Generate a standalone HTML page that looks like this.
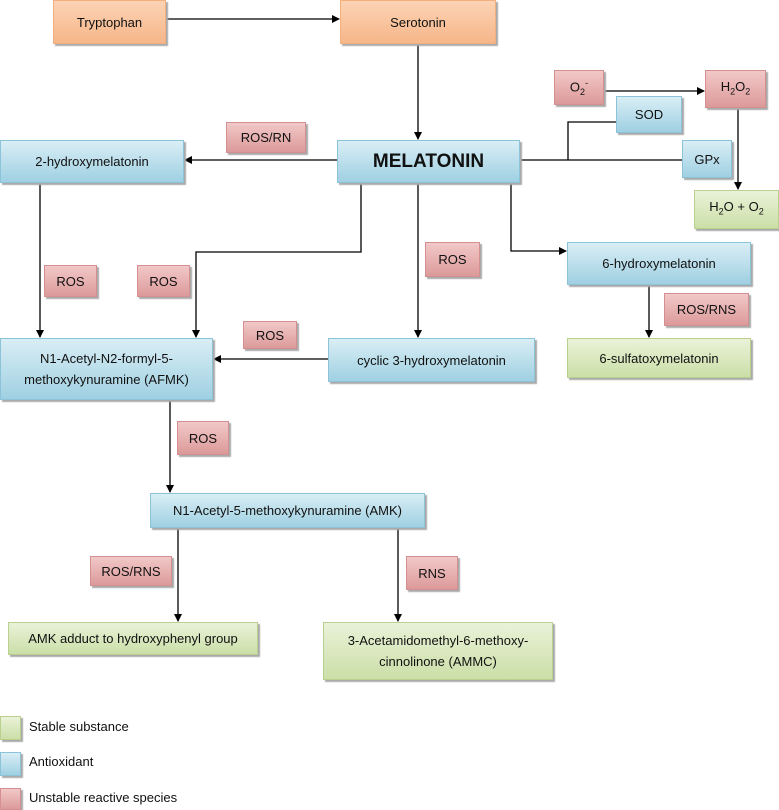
<!DOCTYPE html>
<html><head><style>
body{margin:0;width:779px;height:810px;background:#fff;position:relative;overflow:hidden;font-family:"Liberation Sans",sans-serif;font-size:13px;color:#111}
.b{position:absolute;display:flex;align-items:center;justify-content:center;text-align:center;box-sizing:border-box;box-shadow:2px 2px 1px #aaa;line-height:21px}
.o{background:linear-gradient(#fcd3b4,#f6b68a);border:1px solid #f2b080}
.c{background:linear-gradient(#d9eef5,#9fd0e2);border:1px solid #8cc3d8}
.r{background:linear-gradient(#f2c8c8,#dc9a9a);border:1px solid #d49090}
.g{background:linear-gradient(#eaf2d8,#cbdfa8);border:1px solid #b9d08f}
svg{position:absolute;left:0;top:0}
.l{position:absolute;left:29px;font-size:13px}
sub,sup{font-size:9px}
</style></head><body>
<svg width="779" height="810">
<defs><marker id="a" markerWidth="8" markerHeight="8" refX="7" refY="4" orient="auto" markerUnits="userSpaceOnUse"><path d="M0,0 L8,4 L0,8z" fill="#000"/></marker></defs>
<g stroke="#000" stroke-width="1.3" fill="none">
<line x1="166" y1="19" x2="339" y2="19" marker-end="url(#a)"/>
<line x1="418" y1="44" x2="418" y2="139" marker-end="url(#a)"/>
<line x1="604" y1="91" x2="704" y2="91" marker-end="url(#a)"/>
<line x1="738" y1="108" x2="738" y2="189" marker-end="url(#a)"/>
<line x1="520" y1="160" x2="682" y2="160"/>
<polyline points="568,160 568,122 616,122"/>
<line x1="337" y1="160" x2="185" y2="160" marker-end="url(#a)"/>
<line x1="40" y1="183" x2="40" y2="337" marker-end="url(#a)"/>
<polyline points="361,183 361,252 196,252 196,337" marker-end="url(#a)"/>
<line x1="418" y1="183" x2="418" y2="337" marker-end="url(#a)"/>
<polyline points="511,183 511,251 566,251" marker-end="url(#a)"/>
<line x1="649" y1="285" x2="649" y2="337" marker-end="url(#a)"/>
<line x1="328" y1="359" x2="214" y2="359" marker-end="url(#a)"/>
<line x1="170" y1="400" x2="170" y2="492" marker-end="url(#a)"/>
<line x1="178" y1="528" x2="178" y2="621" marker-end="url(#a)"/>
<line x1="398" y1="528" x2="398" y2="621" marker-end="url(#a)"/>
</g></svg>
<div class="b o" style="left:53px;top:0;width:113px;height:44px">Tryptophan</div>
<div class="b o" style="left:340px;top:0;width:156px;height:44px">Serotonin</div>
<div class="b r" style="left:554px;top:70px;width:50px;height:35px"><span>O<sub>2</sub><sup>-</sup></span></div>
<div class="b r" style="left:705px;top:70px;width:61px;height:38px"><span>H<sub>2</sub>O<sub>2</sub></span></div>
<div class="b c" style="left:616px;top:96px;width:66px;height:37px">SOD</div>
<div class="b c" style="left:682px;top:140px;width:50px;height:38px">GPx</div>
<div class="b g" style="left:694px;top:190px;width:85px;height:39px"><span>H<sub>2</sub>O + O<sub>2</sub></span></div>
<div class="b c" style="left:337px;top:140px;width:183px;height:43px;font-size:19px;font-weight:bold">MELATONIN</div>
<div class="b c" style="left:0;top:140px;width:184px;height:43px">2-hydroxymelatonin</div>
<div class="b r" style="left:226px;top:122px;width:80px;height:31px">ROS/RN</div>
<div class="b r" style="left:44px;top:265px;width:53px;height:32px">ROS</div>
<div class="b r" style="left:137px;top:265px;width:53px;height:32px">ROS</div>
<div class="b r" style="left:425px;top:242px;width:55px;height:35px">ROS</div>
<div class="b c" style="left:567px;top:242px;width:184px;height:43px">6-hydroxymelatonin</div>
<div class="b r" style="left:664px;top:293px;width:85px;height:33px">ROS/RNS</div>
<div class="b g" style="left:567px;top:338px;width:184px;height:40px">6-sulfatoxymelatonin</div>
<div class="b r" style="left:243px;top:321px;width:54px;height:28px">ROS</div>
<div class="b c" style="left:0;top:338px;width:213px;height:62px">N1-Acetyl-N2-formyl-5-<br>methoxykynuramine (AFMK)</div>
<div class="b c" style="left:328px;top:338px;width:207px;height:44px">cyclic 3-hydroxymelatonin</div>
<div class="b r" style="left:177px;top:421px;width:52px;height:34px">ROS</div>
<div class="b c" style="left:150px;top:493px;width:275px;height:35px">N1-Acetyl-5-methoxykynuramine (AMK)</div>
<div class="b r" style="left:90px;top:556px;width:82px;height:30px">ROS/RNS</div>
<div class="b r" style="left:406px;top:556px;width:52px;height:34px">RNS</div>
<div class="b g" style="left:8px;top:622px;width:250px;height:33px">AMK adduct to hydroxyphenyl group</div>
<div class="b g" style="left:323px;top:622px;width:230px;height:58px">3-Acetamidomethyl-6-methoxy-<br>cinnolinone (AMMC)</div>
<div class="b g" style="left:0;top:716px;width:21px;height:24px"></div>
<div class="b c" style="left:0;top:752px;width:21px;height:24px"></div>
<div class="b r" style="left:0;top:788px;width:21px;height:22px"></div>
<div class="l" style="top:719px">Stable substance</div>
<div class="l" style="top:754px">Antioxidant</div>
<div class="l" style="top:790px">Unstable reactive species</div>
</body></html>
